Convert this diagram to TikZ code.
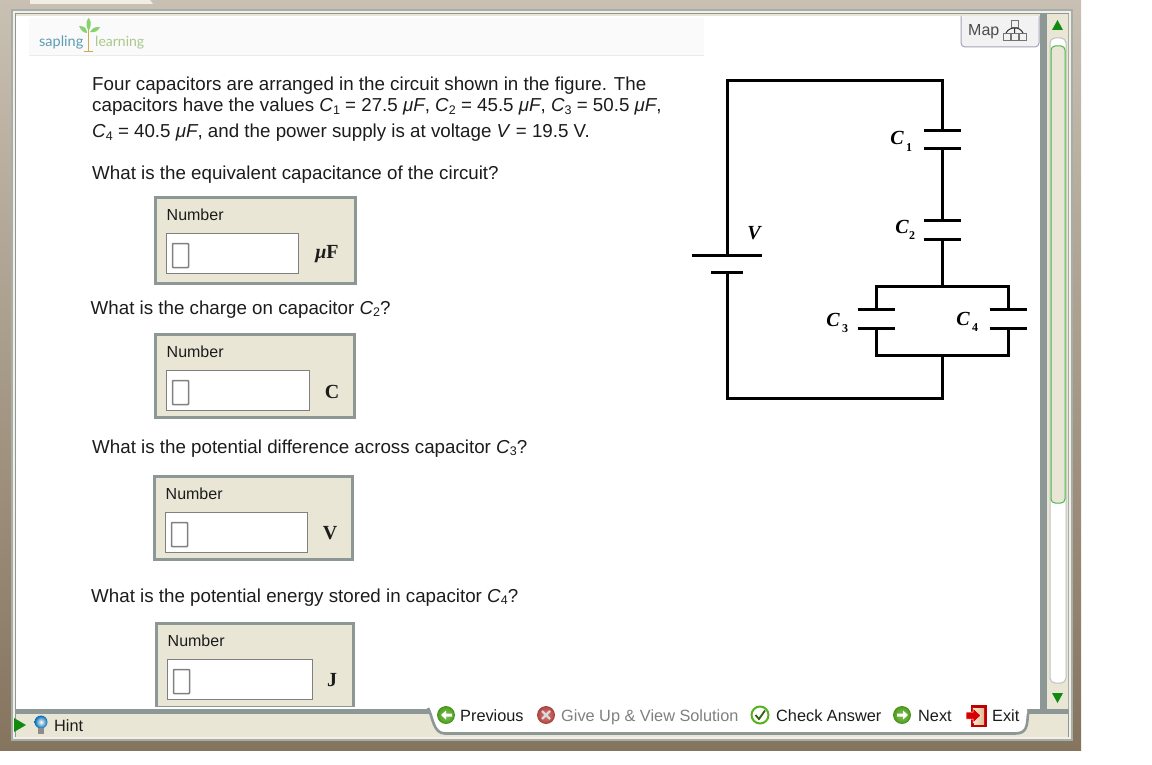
\documentclass[tikz,border=0pt]{standalone}
\usepackage{fontspec}
\setmainfont{Liberation Sans}
\newfontfamily\unitfont{Liberation Serif}
\newfontfamily\logofont{Lato}
\usetikzlibrary{calc}
\definecolor{panelbeige}{HTML}{E9E6D6}
\definecolor{panelgray}{HTML}{8D9896}
\definecolor{fieldgray}{HTML}{808080}
\definecolor{framegray}{HTML}{A7ADA9}
\definecolor{frametop}{HTML}{C8C0B2}
\definecolor{framebot}{HTML}{85745E}
\definecolor{arrowgreen}{HTML}{108A10}
\definecolor{iconred}{HTML}{C8504C}
\definecolor{icongreen}{HTML}{58B020}
\definecolor{logoblue}{HTML}{5B9DB5}
\definecolor{logogreen}{HTML}{A9C78A}
\definecolor{textblack}{HTML}{1C1C1C}
\newcommand{\capsym}[1]{\textit{C}\raisebox{-.3ex}{\fontsize{12.5}{12}\selectfont #1}}
\newcommand{\farad}{\textit{μF}}
\tikzset{
    wire/.style={line width=3pt, black},
    plate/.style={line width=3pt, black},
    body/.style={font=\fontsize{18.75}{18}\selectfont, text=textblack, anchor=base west, inner sep=0pt},
    barlabel/.style={font=\fontsize{16.3}{16}\selectfont, text=textblack, anchor=base west, inner sep=0pt},
    panelbox/.style={draw=panelgray, line width=3pt, fill=panelbeige, anchor=north west, inner sep=0pt, outer sep=0pt},
    fieldbox/.style={draw=fieldgray, line width=1.5pt, fill=white, anchor=north west, inner sep=0pt, outer sep=0pt},
    caretbox/.style={draw=fieldgray, line width=1.5pt, fill=white, anchor=north west, inner sep=0pt, outer sep=0pt,
        minimum width=16pt, minimum height=24pt, rounded corners=.8pt},
    unitlabel/.style={font=\unitfont\bfseries\fontsize{20}{20}\selectfont, text=textblack, inner sep=0pt},
    circlabel/.style={font=\unitfont\bfseries\itshape\fontsize{20}{20}\selectfont, inner sep=0pt},
    sublabel/.style={font=\unitfont\bfseries\fontsize{12}{12}\selectfont, inner sep=0pt},
    roundicon/.style={circle, minimum size=17pt, inner sep=0pt, draw=#1!80!black, line width=.8pt,
        inner color=#1!75!white, outer color=#1!90!black},
}
\begin{document}
\begin{tikzpicture}[x=1pt,y=-1pt]
\useasboundingbox (0,0) rectangle (1152,765);
% window frame
\fill[top color=frametop, bottom color=framebot] (0,0) rectangle (1081,750);
\fill[panelbeige!70!white] (30,0) -- (150,0) -- (153,4) -- (30,4) -- cycle;
\fill[framegray] (11,9) rectangle (1073,741);
\fill[panelbeige!60!white] (13,11) rectangle (1071,739);
\fill[panelgray] (15,13) rectangle (1069,737);
\fill[panelbeige] (16,14) rectangle (1068,737);
\fill[white] (16,16) rectangle (1040,708);
\fill[panelgray] (1040,14) rectangle (1047,714);
% logo strip
\fill[black!2] (29,18) rectangle (704,55);
\draw[black!8] (29,55.5) -- (704,55.5);
\node[font=\logofont\fontsize{14.5}{14}\selectfont, text=logoblue, anchor=base west, inner sep=0pt] (saplingtext) at (39,47) {sapling};
\node[font=\logofont\fontsize{14}{14}\selectfont, text=logogreen, anchor=base west, inner sep=0pt] (learningtext) at (95,47) {learning};
\draw[logogreen!60!orange, line width=1.5pt] (88.5,30) -- (88.5,51) (84,51.5) -- (93,51.5);
\fill[logogreen!80!green] (88.5,31) .. controls (84,21) and (88,20) .. (88.5,18) .. controls (90,20) and (93,23) .. (88.5,31) -- cycle;
\fill[logogreen!80!green] (87,33) .. controls (83,33) and (81,30) .. (79,26) .. controls (84,26) and (87,28) .. (87,33) -- cycle;
\fill[logogreen!80!green] (90,32) .. controls (93,27) and (96,27) .. (100,27) .. controls (98,31) and (95,33) .. (90,32) -- cycle;
% question text
\node[body] (introa) at (92,90.5) {Four capacitors are arranged in the circuit shown in the figure. The};
\node[body] (introb) at (92,111.5) {capacitors have the values \capsym{1} = 27.5 \farad, \capsym{2} = 45.5 \farad, \capsym{3} = 50.5 \farad,};
\node[body] (introc) at (92,137.5) {\capsym{4} = 40.5 \farad, and the power supply is at voltage \textit{V} = 19.5 V.};
\node[body] (querya) at (92,179) {What is the equivalent capacitance of the circuit?};
\node[body] (queryb) at (90.5,314) {What is the charge on capacitor \capsym{2}?};
\node[body] (queryc) at (92,453) {What is the potential difference across capacitor \capsym{3}?};
\node[body] (queryd) at (91,602) {What is the potential energy stored in capacitor \capsym{4}?};
% answer panels
\foreach \n/\px/\py/\pw/\ph/\fw/\ux/\unit in {
    a/155.5/197.5/200/86/132/327/{{\itshape μ}F},
    b/155.5/334.5/199/83/143/332/C,
    c/154.5/476.5/198/83/142/330/V,
    d/156.5/623.5/197/84/145/332/J}{
    \node[panelbox, minimum width=\pw pt, minimum height=\ph pt] (panel\n) at (\px,\py) {};
    \node[barlabel, font=\fontsize{16}{16}\selectfont] (number\n) at (\px+11,\py+23) {Number};
    \node[fieldbox, minimum width=\fw pt, minimum height=40pt] (field\n) at (\px+11,\py+36) {};
    \node[caretbox] (caret\n) at (\px+17,\py+46) {};
    \node[unitlabel] (unit\n) at (\ux,\py+57) {\unit};
}
% circuit
\coordinate (tl) at (727,81);
\coordinate (tr) at (942,81);
\coordinate (bl) at (727,398);
\coordinate (br) at (942,398);
\coordinate (batlong) at (727,255);
\coordinate (batshort) at (727,272);
\coordinate (c1a) at (942,131);
\coordinate (c1b) at (942,149);
\coordinate (c2a) at (942,220);
\coordinate (c2b) at (942,239);
\coordinate (jtop) at (942,286);
\coordinate (jbot) at (942,355);
\coordinate (jtl) at (876,286);
\coordinate (jtr) at (1008,286);
\coordinate (jbl) at (876,355);
\coordinate (jbr) at (1008,355);
\coordinate (c3a) at (876,309);
\coordinate (c3b) at (876,328);
\coordinate (c4a) at (1008,309);
\coordinate (c4b) at (1008,328);
\draw[wire] (batlong) -- (tl) -- (tr) -- (c1a);
\draw[wire] (c1b) -- (c2a);
\draw[wire] (c2b) -- (jtop);
\draw[wire] (c3a) -- (jtl) -- (jtr) -- (c4a);
\draw[wire] (c3b) -- (jbl) -- (jbr) -- (c4b);
\draw[wire] (jbot) -- (br) -- (bl) -- (batshort);
\foreach \c in {c1a,c1b,c2a,c2b,c3a,c3b,c4a,c4b}
    \draw[plate] ($(\c)+(-18.5,0)$) -- ($(\c)+(18.5,0)$);
\draw[plate] ($(batlong)+(-35,0)$) -- ($(batlong)+(35,0)$);
\draw[plate] ($(batshort)+(-16,0)$) -- ($(batshort)+(16,0)$);
\node[circlabel] (labv) at (754,233) {V};
\foreach \n/\lx/\ly/\sx/\sy in {1/897/138/909/148, 2/902/227/912/236, 3/833/320/845/329, 4/963/319/975/328}{
    \node[circlabel] (labc\n) at (\lx,\ly) {C};
    \node[sublabel] (subc\n) at (\sx,\sy) {\n};
}
% map tab
\fill[blue!4!black!5, rounded corners=4pt] (961,16) -- (961,47) -- (1039,47) -- (1039,16) -- cycle;
\draw[black!25!blue!20!gray!60, line width=1pt, rounded corners=4pt]
    (961,16) -- (961,47) -- (1039,47) -- (1039,16);
\node[barlabel, font=\fontsize{16}{16}\selectfont, text=black!70] (maptext) at (968,36) {Map};
\foreach \bx in {1003,1011,1019}
    \draw[black!55, line width=.8pt] (\bx,33.5) rectangle (\bx+7,40.5);
\draw[black!55, line width=.8pt] (1011,20) rectangle (1018,27);
\draw[black!80, line width=1pt] (1006,33) .. controls (1008,29) and (1012,28) .. (1014.5,28) .. controls (1018,28) and (1021,29) .. (1023,33) (1014.5,28) -- (1014.5,33);
% scrollbar
\fill[framegray] (1068,14) rectangle (1069,714);
\fill[white, draw=black!25, line width=1pt, rounded corners=5pt] (1050,38) rectangle (1066,683);
\fill[panelbeige, draw=green!45!gray, line width=1pt, rounded corners=4pt] (1051,46) rectangle (1065,503);
\fill[arrowgreen] (1057.5,20) -- (1052,30) -- (1063,30) -- cycle;
\fill[arrowgreen] (1057.5,703) -- (1052,693) -- (1063,693) -- cycle;
% bottom bar
\fill[panelbeige] (16,714) rectangle (1068,737);
\fill[panelgray] (16,708.5) rectangle (1069,714);
\fill[white] (16,707) rectangle (1040,708.5);
\fill[white] (427,706) .. controls (432,716) and (432,732) .. (445,732) -- (1015,732) .. controls (1026,732) and (1026,726) .. (1027,714) -- (1027,706) -- cycle;
\draw[panelgray, line width=2.6pt] (428,708) .. controls (433,717) and (433,733.5) .. (445,733.5) -- (1015,733.5) .. controls (1027,733.5) and (1027,726) .. (1028,714);
\draw[panelbeige!60!white, line width=1pt] (16,738) -- (1068,738);
% toolbar
\node[roundicon=icongreen] (iconprev) at (446,715) {};
\fill[white] (441,715) -- (446,710.5) -- (446,713.5) -- (452,713.5) -- (452,716.5) -- (446,716.5) -- (446,719.5) -- cycle;
\node[barlabel] (textprev) at (460,721) {Previous};
\node[roundicon=iconred] (icongiveup) at (546,715) {};
\draw[white!85!black, line width=2.4pt] (542,711) -- (550,719) (550,711) -- (542,719);
\node[barlabel, text=black!50] (textgiveup) at (561,721) {Give Up \& View Solution};
\node[circle, minimum size=17pt, inner sep=0pt, draw=icongreen, line width=2pt, fill=white] (iconcheck) at (760,715) {};
\draw[black!45!icongreen, line width=1.8pt] (755.5,715) -- (759,719) -- (765,710.5);
\node[barlabel] (textcheck) at (776,721) {Check Answer};
\node[roundicon=icongreen] (iconnext) at (902,715) {};
\fill[white] (908,715) -- (903,710.5) -- (903,713.5) -- (897,713.5) -- (897,716.5) -- (903,716.5) -- (903,719.5) -- cycle;
\node[barlabel] (textnext) at (918,721) {Next};
\fill[red!75!black] (971,705) rectangle (987,727);
\shade[left color=orange!20!white, right color=brown!55!white] (974,708) rectangle (984,724);
\fill[red!85!black, draw=white, line width=.5pt] (966,712) -- (973,712) -- (973,708) -- (981,715.5) -- (973,723) -- (973,719) -- (966,719) -- cycle;
\node[barlabel] (textexit) at (992,721) {Exit};
% hint
\fill[arrowgreen] (14,718) -- (26,725) -- (14,732) -- cycle;
\shade[inner color=white, outer color=blue!40!cyan!70!black] (41,722) circle (6.5);
\fill[black!45] (38,728) rectangle (44,734);
\node[barlabel] (texthint) at (54,731) {Hint};
\end{tikzpicture}
\end{document}
